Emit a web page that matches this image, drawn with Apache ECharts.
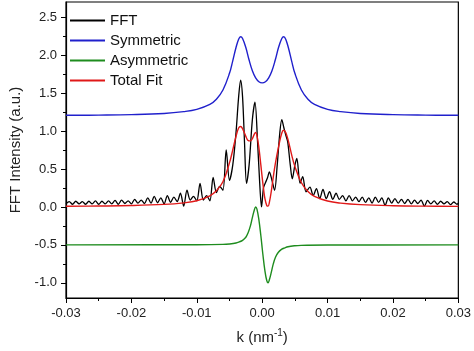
<!DOCTYPE html>
<html lang="en">
<head>
  <meta charset="UTF-8">
  <title>FFT fit</title>
  <script src="https://cdn.jsdelivr.net/npm/echarts@6/dist/echarts.min.js"></script>
  <style>
    html, body { margin: 0; padding: 0; background: #fff; }
    #main { width: 474px; height: 351px; }
  </style>
</head>
<body>
<div id="main"></div>
<script>
    // k values below are in units of 1e-3 nm^-1
    var kFft = [-30,-29.5,-29,-28.5,-28,-27.5,-27,-26.5,-26,-25.5,-25,-24.5,-24,-23.5,-23,-22.5,-22,-21.5,-21,-20.5,
      -20,-19.5,-19,-18.5,-18,-17.5,-17,-16.5,-16,-15.5,-15,-14.5,-14,-13.5,-13,-12.5,-12,-11.5,-11,-10.5,
      -10,-9.5,-9,-8.5,-8,-7.5,-7,-6.5,-6,-5.5,-5,-4.5,-4,-3.6,-3.3,-3,-2.7,-2.4,-2,-1.5,-1.1,-0.7,-0.4,-0.1,
      0.2,0.5,0.8,1.1,1.5,1.9,2.3,2.7,3,3.3,3.6,3.9,4.3,4.6,5,5.3,5.8,6.2,6.7,7.3,7.8,8.3,8.8,9.3,9.8,
      10.3,10.8,11.3,11.8,12.3,12.8,13.3,13.8,14.3,14.8,15.3,15.8,16.3,16.8,17.3,17.8,18.3,18.8,19.3,19.8,
      20.3,20.8,21.3,21.8,22.3,22.8,23.3,23.8,24.3,24.8,25.3,25.8,26.3,26.8,27.3,27.8,28.3,28.8,29.3,29.8,30];
    var fftVals = [0.04,0.07,0.035,0.075,0.04,0.07,0.035,0.075,0.04,0.08,0.035,0.075,0.04,0.08,0.04,0.085,0.035,0.09,0.045,0.08,
      0.04,0.10,0.05,0.09,0.045,0.12,0.05,0.14,0.055,0.12,0.04,0.15,0.06,0.13,0.07,0.18,0.01,0.22,0.09,0.14,
      0.08,0.31,0.09,0.15,0.08,0.39,0.19,0.27,0.22,0.75,0.35,0.55,0.98,1.45,1.67,1.45,0.85,0.31,0.55,1.15,1.38,0.85,0.35,0.0,
      0.25,0.32,0.38,0.46,0.35,0.22,0.55,0.98,1.15,1.05,0.95,0.86,0.55,0.37,0.55,0.64,0.31,0.40,0.20,0.26,0.15,0.24,0.11,0.23,0.11,
      0.20,0.10,0.18,0.10,0.15,0.08,0.15,0.08,0.13,0.07,0.13,0.06,0.12,0.05,0.13,0.06,0.12,0.02,0.12,0.05,
      0.11,0.05,0.10,0.045,0.10,0.04,0.09,0.045,0.09,0.01,0.085,0.04,0.08,0.035,0.075,0.04,0.07,0.03,0.065,0.035,0.05];

    var kSym = [-30,-25,-20,-15,-12,-10,-8,-7,-6,-5,-4.5,-4,-3.6,-3.3,-3,-2.5,-2,-1.5,-1,-0.5,0,
      0.5,1,1.5,2,2.5,3,3.3,3.6,4,4.5,5,6,7,8,10,12,15,20,25,30];
    var symVals = [1.207,1.210,1.216,1.231,1.255,1.285,1.350,1.418,1.540,1.760,1.925,2.100,2.210,2.243,2.220,2.10,1.935,1.795,1.700,1.650,1.635,
      1.650,1.700,1.795,1.935,2.10,2.220,2.243,2.210,2.100,1.925,1.760,1.540,1.418,1.350,1.285,1.255,1.231,1.216,1.210,1.207];

    var kAsym = [-30,-10,-6,-5,-4,-3.5,-3,-2.5,-2.15,-1.8,-1.5,-1.2,-1,-0.8,-0.5,-0.2,-0.05,0.1,0.4,0.7,0.9,1.1,1.4,1.7,
      2.05,2.45,2.95,3.45,3.95,4.95,5.95,9.95,30];
    var asymVals = [-0.5,-0.498,-0.494,-0.488,-0.475,-0.46,-0.44,-0.40,-0.34,-0.25,-0.14,-0.04,0.0,-0.03,-0.17,-0.38,-0.5,-0.62,-0.83,-0.97,-1.0,-0.96,-0.86,-0.75,
      -0.66,-0.60,-0.56,-0.54,-0.525,-0.512,-0.506,-0.502,-0.5];

    var kFit = [-30,-25,-20,-15,-12,-10,-8,-7,-6,-5,-4.5,-4,-3.6,-3.3,-3,-2.5,-2.2,-1.8,-1.5,-1.2,-1,-0.8,-0.5,-0.2,0,
      0.2,0.4,0.7,0.9,1.1,1.4,1.7,2,2.5,3,3.3,3.6,4,4.5,5,6,7,8,10,12,15,20,25,30];
    var fitVals = [0.009,0.012,0.018,0.033,0.054,0.082,0.146,0.212,0.331,0.58,0.75,0.93,1.04,1.06,1.03,0.93,0.88,0.87,0.90,0.96,0.98,0.94,0.78,0.55,0.39,
      0.245,0.12,0.02,0.01,0.06,0.21,0.395,0.563,0.79,0.975,1.01,0.98,0.87,0.69,0.534,0.319,0.204,0.14,0.078,0.05,0.03,0.016,0.01,0.007];

    var yMajor = [-1.0,-0.5,0.0,0.5,1.0,1.5,2.0,2.5];
    var yMinor = [-0.75,-0.25,0.25,0.75,1.25,1.75,2.25];

    function pairs(ks, vs){
      var out = [];
      for (var i = 0; i < ks.length; i++) out.push([ks[i] * 0.001, vs[i]]);
      return out;
    }

    var chart = echarts.init(document.getElementById('main'), null, {renderer: 'canvas'});
    var txt = {color: '#222', fontFamily: 'Liberation Sans, Arial, sans-serif'};

    chart.setOption({
      animation: false,
      grid: {left: 57, right: 13, top: 2, bottom: 53, show: true, borderColor: '#000', borderWidth: 1.2},
      legend: {
        orient: 'vertical', left: 64, top: 8, itemWidth: 35, itemHeight: 14, itemGap: 5,
        itemStyle: {opacity: 0},
        textStyle: {fontSize: 15, color: '#111', fontFamily: txt.fontFamily},
        data: ['FFT', 'Symmetric', 'Asymmetric', 'Total Fit']
      },
      xAxis: {
        type: 'value', min: -0.03, max: 0.03, interval: 0.01,
        axisLine: {onZero: false, lineStyle: {color: '#000', width: 1.2}},
        axisTick: {length: 5, lineStyle: {color: '#000'}},
        minorTick: {show: true, splitNumber: 2, length: 3, lineStyle: {color: '#000'}},
        splitLine: {show: false},
        axisLabel: {
          margin: 9, fontSize: 13, color: txt.color, fontFamily: txt.fontFamily,
          formatter: function(v){ return Math.abs(v) < 1e-9 ? '0.00' : v.toFixed(2); }
        },
        name: '{n|k (nm}{s|-1}{n|)}', nameLocation: 'middle', nameGap: 30,
        nameTextStyle: {
          rich: {
            n: {fontSize: 15, color: txt.color, fontFamily: txt.fontFamily, verticalAlign: 'bottom'},
            s: {fontSize: 10, color: txt.color, fontFamily: txt.fontFamily, verticalAlign: 'bottom', padding: [0, 0, 7, 0]}
          }
        }
      },
      yAxis: [{
        type: 'value', min: -1.2, max: 2.7,
        axisLine: {show: true, onZero: false, lineStyle: {color: '#000', width: 1.2}},
        axisTick: {show: true, length: 5, customValues: yMajor, lineStyle: {color: '#000'}},
        splitLine: {show: false},
        axisLabel: {
          margin: 9, fontSize: 13, color: txt.color, fontFamily: txt.fontFamily, customValues: yMajor,
          formatter: function(v){ return v.toFixed(1); }
        },
        name: 'FFT Intensity (a.u.)', nameLocation: 'middle', nameGap: 43,
        nameTextStyle: {fontSize: 15, color: txt.color, fontFamily: txt.fontFamily}
      }, {
        type: 'value', min: -1.2, max: 2.7, position: 'left',
        axisLine: {show: false, onZero: false},
        axisTick: {show: true, length: 3, customValues: yMinor, lineStyle: {color: '#000'}},
        axisLabel: {show: false},
        splitLine: {show: false}
      }],
      series: [
        {name: 'FFT', type: 'line', symbol: 'none', smooth: 0.3, data: pairs(kFft, fftVals),
          lineStyle: {color: '#000', width: 1.3}, itemStyle: {color: '#000'}, z: 3},
        {name: 'Symmetric', type: 'line', symbol: 'none', smooth: 0.4, data: pairs(kSym, symVals),
          lineStyle: {color: '#2020cc', width: 1.4}, itemStyle: {color: '#2020cc'}},
        {name: 'Asymmetric', type: 'line', symbol: 'none', smooth: 0.4, data: pairs(kAsym, asymVals),
          lineStyle: {color: '#1e8c1e', width: 1.4}, itemStyle: {color: '#1e8c1e'}},
        {name: 'Total Fit', type: 'line', symbol: 'none', smooth: 0.4, data: pairs(kFit, fitVals),
          lineStyle: {color: '#e01818', width: 1.4}, itemStyle: {color: '#e01818'}, z: 4}
      ]
    });
</script>
</body>
</html>
